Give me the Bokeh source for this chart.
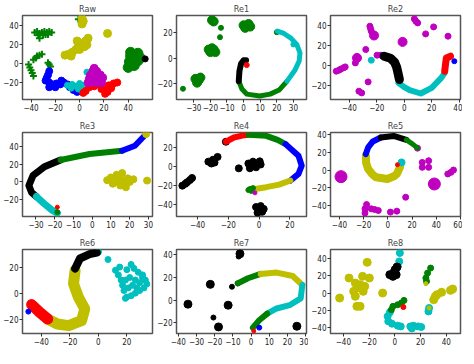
from bokeh.plotting import figure
from bokeh.layouts import gridplot
from bokeh.models import FixedTicker, CustomJSTickFormatter, Range1d
from bokeh.embed import file_html
from bokeh.resources import INLINE

BLUE, GREEN, RED, CYAN, MAG, YEL, BLACK = "#0000ff", "#008000", "#ff0000", "#00bfbf", "#bf00bf", "#bfbf00", "#000000"

# ---------------- Raw ----------------
raw_green_plus = [(-37, 33), (-35, 34), (-33, 32), (-31, 33), (-29, 34), (-27, 33), (-25, 34), (-23, 33),
                  (-30, 30), (-34, 30), (-33, 27), (-28, 31), (-26, 31), (-38, 4), (-36, 6), (-35, 8),
                  (-33, 9), (-31, 10), (-42, -1), (-41, -4), (-40, -7), (-39, -10), (-38, -13), (-26, 1),
                  (-25, -1), (-24, -3), (-1, 47)]
raw_green_blob = [(42, 8), (46, 9), (44, 4), (48, 3), (41, 2), (45, -2), (42, 12), (48, 11), (40, -4), (50, 6)]
raw_black = [(54, 5)]
raw_yellow = [(2, 48), (3, 45), (2, 42), (23, 32), (-12, 9), (-9, 10), (-6, 12), (-3, 15), (-1, 18), (0, 21),
              (3, 22), (5, 24), (6, 20), (-2, 24), (4, 18), (7, 27), (-7, 8), (0, 15)]
raw_blue = [(-28, -18), (-25, -20), (-22, -22), (-19, -21), (-16, -22), (-13, -20), (-10, -22), (-25, -25),
            (-20, -25), (-26, -12), (-25, -8), (-27, -15), (-15, -18), (-8, -25), (-5, -28), (-2, -30)]
raw_cyan = [(-10, -23), (-6, -22), (-3, -24), (0, -21), (3, -23), (5, -26), (-1, -27), (2, -29), (-7, -26), (6, -9)]
raw_magenta = [(12, -5), (11, -8), (14, -8), (9, -12), (13, -12), (17, -12), (8, -16), (12, -16), (16, -16),
               (19, -15), (7, -20), (11, -20), (15, -20), (18, -20)]
raw_red = [(16, -22), (20, -24), (24, -23), (28, -21), (31, -20), (18, -27), (22, -28), (26, -26), (21, -32),
           (23, -30), (12, -24), (8, -25), (5, -29), (3, -31)]

# ---------------- Re1 ----------------
re1_green_clumps = [(-19, 30), (-18, 29), (0, 26), (3, 27), (4, 25), (1, 24), (-21, 7), (-18, 7), (-20, 5),
                    (-17, 5), (-19, 8), (-29, -16), (-27, -17), (-28, -19), (-26, -15)]
re1_green_dots = [(-13.6, 24), (-14.2, 16.7), (-36.5, -23.8), (20, 20.6)]
re1_black = [(-2.9, -17.8), (-2.5, -10), (-1.5, -4), (0, -1.5), (1.5, -1.5)]
re1_green = [(-2.9, -17.8), (-1, -24), (2, -28), (9.7, -29.5), (16, -28), (21.4, -24.8), (26.2, -17.8)]
re1_cyan = [(26.2, -17.8), (31, -9), (33.5, -2), (34, 4.4), (32, 11), (28.5, 16), (24.3, 19.6), (20.4, 21.4)]
re1_cyan_dots = [(30, 11)]
re1_red = [(1.9, -5.2)]

# ---------------- Re2 ----------------
re2_magenta_small = [(-49.5, -6), (-47.5, -5), (-46, -3.7), (-44, -2.5), (-43, -1.7), (-35.6, 2.3), (-28, 15.7),
                     (-25, 39), (-24.5, 36.5), (-24, 34), (-19.8, 10), (-17, 10), (-26.3, -16.7), (-33, -26),
                     (-31, -27.7), (7.4, 46.3), (8.5, 44), (9.8, 42.3), (15.6, 31.3), (21.4, 38.3), (31.9, 29)]
re2_magenta_big = [(-34.4, 7.3), (-22, 29.7), (-1.2, 23.3)]
re2_cyan_dots = [(-24, 5)]
re2_black = [(-14.7, 9), (-10, 7), (-7, 3), (-5.5, -2), (-4.5, -8), (-3.5, -14.3)]
re2_cyan = [(-4.2, -17.7), (0, -22), (4, -25), (12, -28.3), (20, -22.7), (27, -12.7), (29.5, -7.7)]
re2_red = [(29.5, -6), (30, 0), (30.7, 7.3), (33.7, 9)]
re2_blue = [(36.5, 4)]

# ---------------- Re3 ----------------
re3_black = [(-16.9, 24.6), (-25.5, 17.1), (-31.6, 7.1), (-33.8, -4.1), (-32.4, -11.6), (-29.8, -16.4)]
re3_cyan = [(-29.8, -16.4), (-25.5, -24.6), (-21.2, -32), (-18.6, -35)]
re3_green = [(-16.9, 24.6), (-1.4, 31.3), (15.9, 35)]
re3_blue = [(15.9, 35), (22.8, 40.6), (27.9, 51.8)]
re3_green_dots = [(-18.6, -34)]
re3_red_dots = [(-18.6, -28.3)]
re3_yellow = [(8, 2), (10, 5), (12, 0), (13, 8), (14, 3), (15, -4), (16, 10), (17, 1), (18, -6), (19, 4),
              (20, 0), (22, 3), (11, -2), (15, 6), (29.3, 1.5), (28.8, 53.7)]

# ---------------- Re4 ----------------
re4_red = [(-21.6, 26), (-16.4, 30.5), (-11, 32.5), (-6.9, 33.3)]
re4_green = [(-6.9, 33.3), (4.6, 32.3), (12, 28), (17.2, 23.5)]
re4_blue = [(17.2, 23.5), (25.6, 11.2), (27.7, 0.7), (25.6, -8), (20.3, -15)]
re4_yellow = [(20.3, -15), (13, -19.3), (4.6, -22), (-2.7, -23.9)]
re4_green_dots = [(-5.9, -23.9), (-4, -23), (-7, -25), (-5, -26)]
re4_magenta = [(-2.7, -28)]
re4_black = [(-21.6, 26), (-33, 5), (-30, 7), (-29, 4), (-31, 3), (-27, 10), (-13.2, -2.1), (-7, 3), (-4, 5),
             (-1, 3), (-5, 0), (-2, -1), (1, 2), (-6, -2), (0.4, 5.3), (-49.9, -20.4), (-48, -18.5),
             (-46.8, -16.8), (-45, -14.5), (-43.6, -12.3), (-2, -43), (1, -42), (3, -45), (0, -47),
             (-1, -49), (2, -48)]

# ---------------- Re5 ----------------
re5_black = [(-5.8, 36.3), (4.7, 38.1), (15.3, 33.7)]
re5_green = [(15.3, 33.7), (20.5, 28.9), (24.5, 24.4)]
re5_blue = [(-5.8, 36.3), (-12.4, 31.9), (-16.3, 25.2), (-18.2, 17.8)]
re5_yellow = [(-18.2, 16), (-18, 8), (-16.3, 1.1), (-13, -4.5), (-9.7, -8.1), (-0.5, -10), (5, -7),
              (7.4, -4.4), (10, 3)]
re5_cyan = [(11.3, 8.5)]
re5_red = [(7.9, 5.9)]
re5_magenta_small = [(24.5, 24.4), (28.4, 8.5), (28.4, 3), (33.7, 10.4), (33.7, 3), (49.5, -4.4), (52.1, -2.6),
                     (54.2, 0), (14.7, -30.4), (-18.9, -43.3), (-17.6, -38.5), (-13.7, -43.3), (-7.9, -45.2),
                     (2.1, -47), (7.4, -45.9), (-18.9, -48), (-11, -44)]
re5_magenta_big = [(-38.7, -7.4), (38.4, -15.6)]

# ---------------- Re6 ----------------
re6_black = [(-16.3, 18.8), (-12.9, 26.6), (-6.1, 29.9), (-1.1, 31.2)]
re6_yellow = [(-16.3, 17.5), (-17.4, 7.2), (-14, -3.1), (-9.5, -12.1), (-11.8, -21.2), (-20.8, -25),
              (-28.7, -23.7), (-35.5, -19.9)]
re6_red = [(-35.5, -19.9), (-41.2, -14.7), (-46.8, -8.8)]
re6_blue = [(-49.1, -14.2)]
re6_cyan = [(0.2, 31.7), (6.8, 25.8), (12, 17.5), (15, 20), (23, 22), (20, 18), (25, 19), (28, 16), (31, 14),
            (33, 10), (34, 7), (32, 4), (29, 2), (26, 0), (23, -2), (20, -3), (18, 2), (17, 6), (19, 10),
            (22, 12), (26, 10), (29, 8), (24, 6), (21, 4), (16, 10), (14, 14), (27, 4), (31, 12), (19, -4)]

# ---------------- Re7 ----------------
re7_black_big = [(-6.1, 40.9), (-22.4, 13.9), (-34.7, -3.6), (-12.6, -4.5), (-17.9, -23.7), (25.2, -23.1)]
re7_black_small = [(-6.8, 38.5), (-10.5, 11.8), (-7.3, 14.8), (-20.7, -15.4)]
re7_green_top = [(-7.3, 14.8), (-1.7, 19.3), (5.3, 23.1)]
re7_yellow = [(5.3, 23.1), (14.1, 24.3), (22.9, 21.3), (28.2, 13.3)]
re7_cyan = [(28.2, 13.3), (27.3, 1.5), (21.2, -4.5), (14.1, -7.4), (8.9, -11.9)]
re7_green_low = [(8.9, -11.9), (4.5, -17.8), (1, -24.3)]
re7_red = [(1.5, -27.3)]
re7_blue = [(4.5, -24.3)]

# ---------------- Re8 ----------------
re8_cyan = [(3.9, 46.2), (3.4, 36.5), (2.2, 30.8), (-5.1, -32.7), (-2.2, -35.4), (2.2, -37.7), (4.6, -38.5),
            (-5.6, -26.9), (-3.9, -22.3), (12, -38.5), (14.4, -37.7), (18, -38.5), (20.5, -39.2),
            (13.2, -40.8), (26.1, -21.2), (26.6, -17.3)]
re8_black = [(-3.9, 21.2), (0.2, 26.9), (1, 21.2), (-1.5, 19.2), (1.7, 30), (-0.2, 25)]
re8_green = [(27.8, 28.8), (25.4, 23), (24.1, 17.3), (24.6, 13.5), (-2.7, -19.2), (-1.5, -15.4), (2.2, -13.5),
             (5.1, -11.5), (7.1, -8.5)]
re8_yellow = [(-42.9, -5.8), (-35.6, 17.3), (-30.7, 11.5), (-29.5, 5.8), (-32, 1.9), (-30.7, -3.8),
              (-29.5, -15.4), (-27, -15.4), (-25.1, 19.2), (-19.8, 17.3), (-21.5, 35.4), (-24.6, 1.9),
              (-23.4, 7.7), (-27, 9.6), (-9.5, 0), (30.2, -7.7), (32.7, -1.9), (36.3, 0.8), (31.5, -3.8),
              (43.2, 3.1), (44.9, 4.6)]
re8_yellow_small = [(24.1, 10.8), (26.6, -17.3)]
re8_red = [(6.6, -16.2)]

FMT = CustomJSTickFormatter(code="return (tick < 0 ? '\u2212' : '') + Math.abs(tick);")
FONT = "'DejaVu Sans Condensed', 'DejaVu Sans'"


def mk(title, xr, yr, xt, yt):
    p = figure(frame_width=130, frame_height=84, x_range=Range1d(*xr), y_range=Range1d(*yr),
               output_backend="svg", toolbar_location=None, title=title,
               min_border_left=20, min_border_right=2, min_border_top=14, min_border_bottom=18)
    p.title.text_font_size = "9px"
    p.title.text_font_style = "normal"
    p.title.text_font = FONT
    p.title.align = "center"
    p.title.standoff = 3
    p.grid.visible = False
    p.outline_line_color = "#555555"
    p.outline_line_width = 1.5
    p.xaxis.ticker = FixedTicker(ticks=xt)
    p.yaxis.ticker = FixedTicker(ticks=yt)
    for ax in (p.xaxis[0], p.yaxis[0]):
        ax.formatter = FMT
        ax.axis_line_color = None
        ax.major_tick_in = 0
        ax.major_tick_out = 3
        ax.minor_tick_out = 0
        ax.minor_tick_in = 0
        ax.major_label_standoff = 1
        ax.major_tick_line_color = "#333333"
        ax.major_label_text_font_size = "8px"
        ax.major_label_text_font = FONT
        ax.major_label_text_color = "#222222"
    return p


def dots(p, pts, color, size, marker="circle", lw=1):
    p.scatter([a for a, b in pts], [b for a, b in pts], size=size, color=color, marker=marker, line_width=lw)


def band(p, pts, color, width):
    p.line([a for a, b in pts], [b for a, b in pts], line_width=width, color=color,
           line_cap="round", line_join="round")


# Raw
p1 = mk("Raw", (-47, 60), (-38, 51), [-40, -20, 0, 20, 40], [-20, 0, 20, 40])
dots(p1, raw_green_plus, GREEN, 7, "cross", 2)
dots(p1, raw_green_blob, GREEN, 10)
dots(p1, raw_black, BLACK, 6)
dots(p1, raw_yellow, YEL, 8)
dots(p1, raw_blue, BLUE, 7)
dots(p1, raw_cyan, CYAN, 6)
dots(p1, raw_red, RED, 7)
dots(p1, raw_magenta, MAG, 8)

# Re1
p2 = mk("Re1", (-40.4, 37.9), (-32.2, 33.7), [-30, -20, -10, 0, 10, 20, 30], [-20, 0, 20])
dots(p2, re1_green_clumps, GREEN, 9)
dots(p2, re1_green_dots, GREEN, 5)
band(p2, re1_green, GREEN, 5)
band(p2, re1_cyan, CYAN, 5)
dots(p2, re1_cyan_dots, CYAN, 5)
band(p2, re1_black, BLACK, 6)
dots(p2, re1_red, RED, 5)

# Re2
p3 = mk("Re2", (-53.7, 41), (-34.3, 49.7), [-40, -20, 0, 20, 40], [-20, 0, 20, 40])
dots(p3, re2_magenta_small, MAG, 6)
dots(p3, re2_magenta_big, MAG, 9)
dots(p3, re2_cyan_dots, CYAN, 6)
band(p3, re2_cyan, CYAN, 6)
band(p3, re2_black, BLACK, 9)
band(p3, re2_red, RED, 7)
dots(p3, re2_blue, BLUE, 5)

# Re3
p4 = mk("Re3", (-37.2, 32.2), (-38.8, 55.5), [-30, -20, -10, 0, 10, 20, 30], [-20, 0, 20, 40])
band(p4, re3_black, BLACK, 7)
band(p4, re3_cyan, CYAN, 7)
band(p4, re3_green, GREEN, 6)
band(p4, re3_blue, BLUE, 6)
dots(p4, re3_yellow, YEL, 7)
dots(p4, re3_red_dots, RED, 4)
dots(p4, re3_green_dots, GREEN, 5)

# Re4
p5 = mk("Re4", (-53.7, 30.8), (-53, 35.8), [-40, -20, 0, 20], [-40, -20, 0, 20])
dots(p5, re4_black, BLACK, 7)
band(p5, re4_red, RED, 6)
band(p5, re4_green, GREEN, 6)
band(p5, re4_blue, BLUE, 6)
band(p5, re4_yellow, YEL, 6)
dots(p5, re4_green_dots, GREEN, 5)
dots(p5, re4_magenta, MAG, 4)

# Re5
p6 = mk("Re5", (-47.4, 60), (-51.9, 41.9), [-40, -20, 0, 20, 40, 60], [-40, -20, 0, 20, 40])
dots(p6, re5_magenta_small, MAG, 6)
dots(p6, re5_magenta_big, MAG, 12)
band(p6, re5_yellow, YEL, 8)
band(p6, re5_blue, BLUE, 6)
band(p6, re5_black, BLACK, 6)
band(p6, re5_green, GREEN, 5)
dots(p6, re5_cyan, CYAN, 7)
dots(p6, re5_red, RED, 4)

# Re6
p7 = mk("Re6", (-53.2, 38), (-31, 33.5), [-40, -20, 0, 20], [-20, 0, 20])
dots(p7, re6_cyan, CYAN, 6)
band(p7, re6_yellow, YEL, 11)
band(p7, re6_black, BLACK, 8)
band(p7, re6_red, RED, 11)
dots(p7, re6_blue, BLUE, 5)

# Re7
p8 = mk("Re7", (-41, 30.5), (-29.5, 44.7), [-40, -30, -20, -10, 0, 10, 20, 30], [-20, 0, 20, 40])
dots(p8, re7_black_big, BLACK, 8)
dots(p8, re7_black_small, BLACK, 5)
band(p8, re7_green_top, GREEN, 6)
band(p8, re7_yellow, YEL, 6)
band(p8, re7_cyan, CYAN, 6)
band(p8, re7_green_low, GREEN, 6)
dots(p8, re7_red, RED, 4)
dots(p8, re7_blue, BLUE, 5)

# Re8
p9 = mk("Re8", (-50, 51), (-46.7, 50.2), [-40, -20, 0, 20, 40], [-40, -20, 0, 20, 40])
dots(p9, re8_yellow, YEL, 8)
dots(p9, re8_cyan, CYAN, 7)
dots(p9, re8_black, BLACK, 8)
dots(p9, re8_green, GREEN, 6)
dots(p9, re8_yellow_small, YEL, 4)
dots(p9, re8_red, RED, 5)

grid = gridplot([[p1, p2, p3], [p4, p5, p6], [p7, p8, p9]], toolbar_location=None)

open("out.html", "w").write(file_html(grid, INLINE))
